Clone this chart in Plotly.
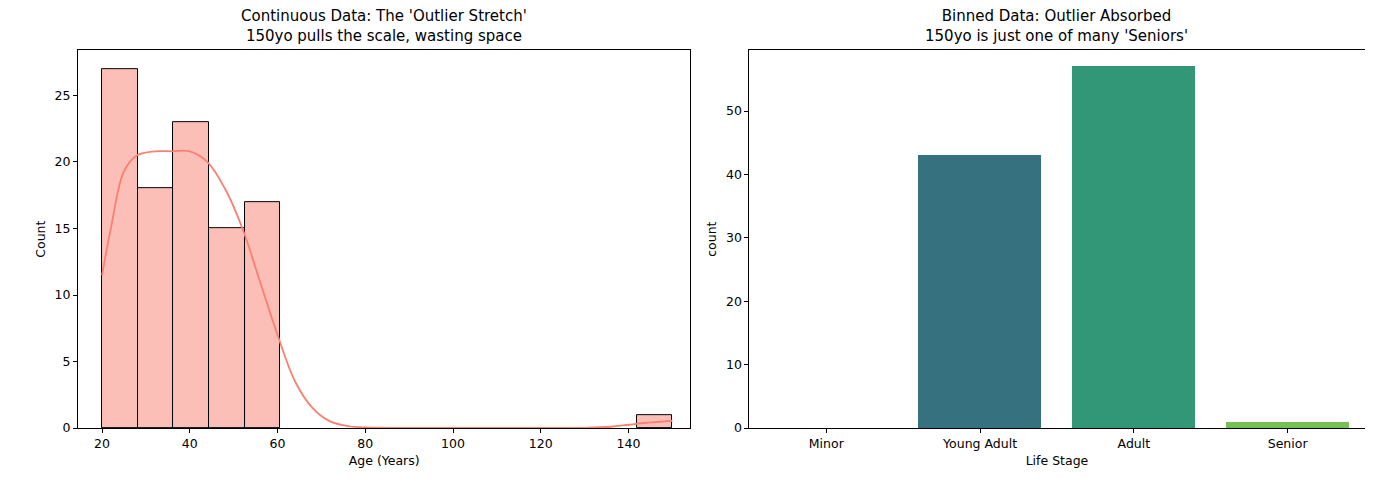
import plotly.graph_objects as go

# histogram data (16 bins from 20 to 150)
bin_start = 20
bin_width = 130 / 16
counts = [27, 18, 23, 15, 17, None, None, None, None, None, None, None, None, None, None, 1]

# kde curve
kde_x = [20, 22, 25, 28, 32, 36, 40, 44, 48, 52, 56, 60, 64, 68, 72, 76, 80, 90, 110, 130, 136, 140, 144, 148, 150]
kde_y = [11.5, 15, 19.3, 20.5, 20.8, 20.8, 20.8, 20.0, 18.0, 15.0, 11.0, 7.0, 3.5, 1.5, 0.5, 0.15, 0.05, 0.02, 0.02, 0.02, 0.1, 0.25, 0.4, 0.5, 0.55]

stages = ["Minor", "Young Adult", "Adult", "Senior"]
stage_counts = [0, 43, 57, 1]
stage_colors = ["#3e4a89", "#367180", "#329777", "#75c156"]

bin_centers = [bin_start + bin_width * (i + 0.5) for i in range(len(counts))]

fig = go.Figure()
fig.add_bar(x=bin_centers, y=counts, width=bin_width, marker=dict(color="rgba(250,128,114,0.5)", line=dict(color="black", width=1)),
            xaxis="x", yaxis="y", showlegend=False)
fig.add_scatter(x=kde_x, y=kde_y, mode="lines", line=dict(color="#fa8072", width=1.8, shape="spline"),
                xaxis="x", yaxis="y", showlegend=False)
fig.add_bar(x=stages, y=stage_counts, width=0.8, marker=dict(color=stage_colors, line=dict(width=0)),
            xaxis="x2", yaxis="y2", showlegend=False)

axis_common = dict(showgrid=False, zeroline=False, showline=True, mirror=True, linecolor="black", linewidth=1,
                   ticks="outside", ticklen=4, tickcolor="black", tickfont=dict(size=12.5, color="black"),
                   automargin=False)

fig.update_layout(
    width=1373, height=479, margin=dict(l=0, r=0, t=0, b=0, autoexpand=False),
    plot_bgcolor="white", paper_bgcolor="white",
    font=dict(family="DejaVu Sans", color="black"),
    bargap=0,
    xaxis=dict(domain=[0.051, 0.497], range=[14.52, 154.1], tickvals=[20, 40, 60, 80, 100, 120, 140],
               title=dict(text="Age (Years)", font=dict(size=12.5), standoff=6), anchor="y", **axis_common),
    yaxis=dict(domain=[0.123, 0.912], range=[0, 28.4], tickvals=[0, 5, 10, 15, 20, 25],
               title=dict(text="Count", font=dict(size=12.5), standoff=6), anchor="x", **axis_common),
    xaxis2=dict(domain=[0.540, 0.988], range=[-0.5, 3.5],
                title=dict(text="Life Stage", font=dict(size=12.5), standoff=6), anchor="y2", **axis_common),
    yaxis2=dict(domain=[0.123, 0.912], range=[0, 59.6], tickvals=[0, 10, 20, 30, 40, 50],
                title=dict(text="count", font=dict(size=12.5), standoff=6), anchor="x2", **axis_common),
    annotations=[
        dict(text="Continuous Data: The 'Outlier Stretch'<br>150yo pulls the scale, wasting space", x=0.274, y=0.918,
             xref="paper", yref="paper", xanchor="center", yanchor="bottom", showarrow=False, font=dict(size=15)),
        dict(text="Binned Data: Outlier Absorbed<br>150yo is just one of many 'Seniors'", x=0.764, y=0.918,
             xref="paper", yref="paper", xanchor="center", yanchor="bottom", showarrow=False, font=dict(size=15)),
    ],
)

fig.write_html("out.html")
